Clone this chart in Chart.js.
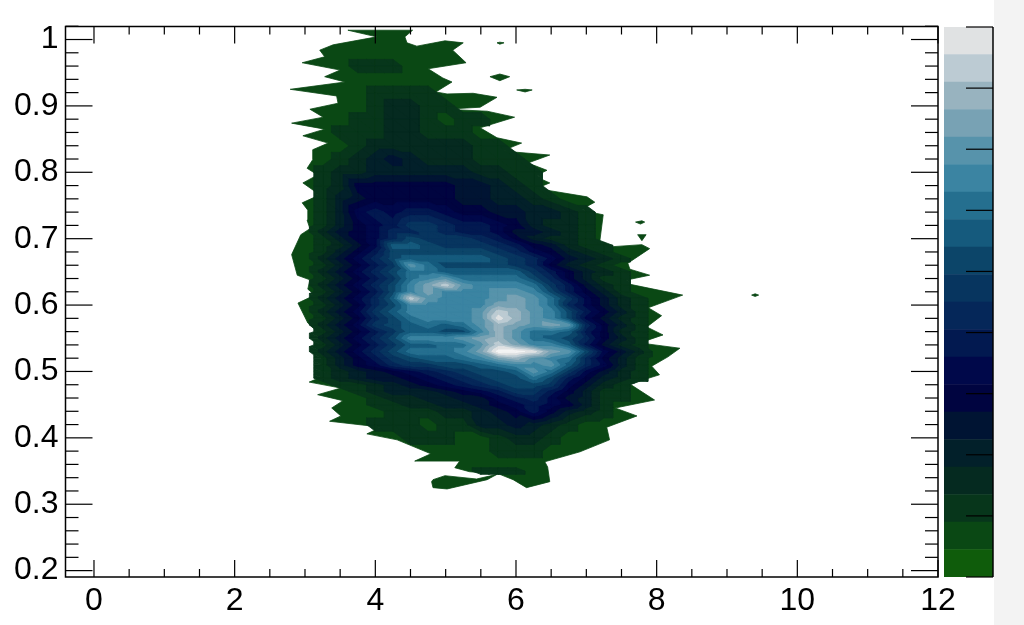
<!DOCTYPE html>
<html>
<head>
<meta charset="UTF-8">
<title>Contour</title>
<script src="https://cdn.jsdelivr.net/npm/chart.js"></script>
<style>
    html, body { margin: 0; padding: 0; background: white; overflow: hidden; }
    #strip { position: absolute; left: 994px; top: 0; width: 30px; height: 625px; background: #f3f3f3; }
    #plot { position: absolute; left: 0; top: 0; }
    #bar { position: absolute; left: 944px; top: 26px; }
</style>
</head>
<body>
<div id="strip"></div>
<canvas id="plot" width="1024" height="625"></canvas>
<canvas id="bar" width="50" height="552"></canvas>
<script>
// axis ticks
const xTicks = [0, 2, 4, 6, 8, 10, 12];
const yTicks = [0.2, 0.3, 0.4, 0.5, 0.6, 0.7, 0.8, 0.9, 1];
const barTicks = [0, 10, 20, 30, 40, 50, 60, 70, 80, 90];
const barBand = 4.5;

// palette, bottom of the colour bar to the top
const bandColors = ['#0f5c0b', '#0a4814', '#07361b', '#052a20', '#02202a', '#001433', '#000440', '#00084a', '#021950', '#052759',
    '#07355f', '#0c4569', '#155a7d', '#256f8f', '#3b84a2', '#5793ab', '#78a2b4', '#98b3bf', '#bccbd3', '#e0e2e3', '#f4f4f4'];

// outer contour
const outlineX = [3.61, 4.53, 4.42, 4.45, 4.59, 4.99, 5.25, 5.10, 5.29, 4.75, 4.96, 5.09, 4.86, 5.02, 5.39, 5.73, 5.49, 4.99, 5.59, 5.98,
    5.49, 5.73, 6.08, 5.80, 6.48, 6.17, 6.44, 6.27, 6.48, 6.34, 6.44, 7.01, 7.12, 6.91, 7.24, 7.19, 7.38, 7.79, 7.90, 7.59,
    7.62, 7.90, 7.45, 8.37, 7.88, 8.07, 7.86, 8.09, 7.76, 8.33, 8.16, 7.93, 8.04, 7.62, 7.97, 7.41, 7.72, 7.29, 7.33, 6.91,
    6.41, 6.45, 6.48, 6.15, 5.96, 5.77, 5.34, 5.13, 5.20, 4.56, 4.79, 4.31, 3.88, 4.09, 3.35, 3.51, 3.38, 3.54, 3.18, 3.51,
    3.06, 3.33, 3.17, 3.27, 3.18, 3.23, 3.04, 2.97, 2.90, 3.14, 3.04, 3.07, 2.89, 2.81, 2.94, 3.07, 3.03, 3.04, 2.96, 3.21,
    2.97, 3.18, 3.03, 3.11, 3.11, 3.33, 2.97, 3.28, 2.81, 3.26, 3.07, 3.47, 3.45, 2.79, 3.57, 3.28, 3.50, 2.96, 3.28, 3.21, 3.40, 4.02, 3.61];
const outlineY = [1.014, 1.014, 1.004, 0.995, 0.990, 0.998, 0.995, 0.984, 0.965, 0.956, 0.942, 0.936, 0.921, 0.918, 0.919, 0.913, 0.898, 0.895, 0.892, 0.883,
    0.867, 0.852, 0.844, 0.832, 0.826, 0.814, 0.803, 0.794, 0.784, 0.778, 0.773, 0.763, 0.755, 0.743, 0.736, 0.695, 0.688, 0.691, 0.685, 0.663,
    0.654, 0.645, 0.635, 0.615, 0.596, 0.584, 0.567, 0.555, 0.543, 0.535, 0.522, 0.508, 0.495, 0.481, 0.457, 0.445, 0.433, 0.416, 0.397, 0.379,
    0.364, 0.356, 0.334, 0.325, 0.337, 0.345, 0.349, 0.355, 0.365, 0.365, 0.376, 0.397, 0.406, 0.416, 0.425, 0.433, 0.445, 0.456, 0.465, 0.475,
    0.484, 0.496, 0.505, 0.514, 0.528, 0.555, 0.573, 0.588, 0.603, 0.615, 0.624, 0.638, 0.645, 0.676, 0.706, 0.715, 0.728, 0.743, 0.754, 0.766,
    0.784, 0.796, 0.806, 0.819, 0.834, 0.844, 0.855, 0.865, 0.874, 0.883, 0.895, 0.904, 0.915, 0.925, 0.936, 0.944, 0.954, 0.965, 0.974, 0.984, 0.992, 1.004, 1.014];

// detached bits of the outer contour
const islandsX = [
    [4.80, 4.82, 4.99, 5.44, 5.73, 5.59, 5.02, 4.82],
    [5.63, 5.77, 5.91, 5.77],
    [6.01, 6.13, 6.23, 6.13],
    [5.73, 5.77, 5.83, 5.77],
    [7.70, 7.79, 7.83, 7.77],
    [7.73, 7.85, 7.79],
    [9.35, 9.40, 9.45, 9.40]
];
const islandsY = [
    [0.334, 0.337, 0.343, 0.338, 0.345, 0.337, 0.323, 0.325],
    [0.944, 0.948, 0.944, 0.938],
    [0.924, 0.925, 0.924, 0.921],
    [0.995, 0.996, 0.995, 0.993],
    [0.725, 0.727, 0.725, 0.722],
    [0.706, 0.706, 0.697],
    [0.615, 0.617, 0.615, 0.613]
];

// inner values on a grid, in colour bands
const colX = [3, 3.25, 3.5, 3.75, 4, 4.25, 4.5, 4.75, 5, 5.25, 5.5, 5.75, 6, 6.25, 6.5, 6.75, 7, 7.25, 7.5, 7.75, 8];
const rowY = [0.98, 0.96, 0.94, 0.92, 0.90, 0.88, 0.86, 0.84, 0.82, 0.80, 0.78, 0.76, 0.74, 0.72, 0.71, 0.70, 0.69, 0.68, 0.67, 0.66, 0.65,
    0.64, 0.63, 0.62, 0.61, 0.60, 0.59, 0.58, 0.57, 0.56, 0.55, 0.54, 0.53, 0.52, 0.51, 0.50, 0.49, 0.48, 0.47, 0.46, 0.45, 0.44, 0.42, 0.40, 0.38, 0.36, 0.35, 0.34];
const zRows = [
    [1,1,1,1,1,1,1,1,1,1,1,1,1,1,1,1,1,1,1,1,1],
    [1,1,1,2,2,2,1,1,1,1,1,1,1,1,1,1,1,1,1,1,1],
    [1,1,1,1,1,1,1,1,1,1,1,1,1,1,1,1,1,1,1,1,1],
    [1,1,1,1,2,2,2,2,1,1,1,1,1,1,1,1,1,1,1,1,1],
    [1,1,1,1,2,3,3,2,2,1,1,1,1,1,1,1,1,1,1,1,1],
    [1,1,1,2,2,3,3,2,1,2,2,1,1,1,1,1,1,1,1,1,1],
    [1,1,2,2,2,3,3,2,2,2,1,1,1,1,1,1,1,1,1,1,1],
    [1,1,1,2,3,3,3,3,3,3,2,2,1,1,1,1,1,1,1,1,1],
    [1,1,2,3,4,5,4,3,3,3,2,2,2,1,1,1,1,1,1,1,1],
    [1,2,3,3,4,4,4,4,4,4,3,3,2,2,1,1,1,1,1,1,1],
    [1,2,3,6,6,6,6,6,6,5,5,4,3,2,1,1,1,1,1,1,1],
    [1,2,4,5,6,6,6,6,6,5,5,4,4,3,2,1,1,1,1,1,1],
    [1,2,4,7,8,7,8,8,7,6,6,5,5,4,4,3,2,1,1,1,1],
    [1,2,4,6,7,8,10,10,9,8,8,7,6,4,3,3,2,1,1,1,1],
    [1,3,5,6,7,9,9,10,9,8,8,7,5,5,4,3,2,1,1,1,1],
    [1,2,4,6,7,9,11,10,10,10,9,8,6,4,3,3,2,1,1,1,1],
    [1,2,3,5,7,12,12,11,10,10,10,9,8,6,5,3,2,2,1,1,1],
    [1,2,4,6,8,11,11,11,11,11,11,10,9,7,6,4,3,2,1,1,1],
    [1,3,5,7,9,11,12,12,12,12,12,11,10,9,7,5,4,3,2,1,1],
    [1,2,4,6,8,10,15,13,11,11,11,11,10,9,6,4,3,2,1,1,1],
    [1,3,5,7,9,11,13,13,12,12,12,12,12,10,8,6,4,3,2,1,1],
    [1,2,4,6,8,10,13,14,15,13,13,13,13,11,9,6,4,2,2,1,1],
    [1,3,5,7,9,11,14,16,18,15,14,14,14,13,10,8,5,3,2,1,1],
    [1,2,4,6,8,11,14,16,14,14,14,15,15,14,11,8,6,4,2,1,1],
    [1,3,5,7,9,12,18,15,14,14,14,15,16,15,13,10,7,5,3,2,1],
    [1,2,4,6,9,11,14,14,14,14,14,16,16,15,13,9,7,5,3,2,1],
    [1,3,5,7,10,12,14,14,14,14,15,18,17,15,14,11,8,6,4,2,1],
    [1,2,4,6,9,11,13,14,14,14,15,19,17,15,14,11,7,5,3,2,1],
    [1,3,5,7,10,11,12,13,12,13,15,17,16,15,16,15,9,6,4,2,1],
    [1,2,4,6,8,10,12,12,11,11,14,17,15,13,13,12,8,6,3,2,1],
    [1,3,5,7,9,11,14,14,14,15,16,17,15,13,12,11,9,6,4,2,1],
    [1,2,4,6,8,10,12,12,13,13,15,18,16,14,14,12,8,5,3,2,1],
    [1,3,5,7,9,11,13,13,13,14,16,20,20,19,16,15,11,7,5,3,1],
    [1,2,4,6,8,10,11,12,12,13,14,16,17,15,14,13,9,6,4,2,1],
    [1,2,4,6,7,9,10,10,11,11,12,13,14,14,15,12,9,7,4,2,1],
    [1,2,3,4,5,6,7,8,9,10,11,11,12,15,13,10,7,5,3,2,1],
    [1,2,3,4,5,5,6,7,8,9,10,11,11,13,11,8,6,4,3,2,1],
    [1,1,2,2,3,4,5,6,7,8,9,10,11,11,10,7,5,3,2,1,1],
    [1,1,1,2,3,4,4,4,5,6,7,8,10,10,8,6,4,2,2,1,1],
    [1,1,1,1,2,3,3,4,4,5,5,7,8,9,7,5,4,2,2,1,1],
    [1,1,1,1,2,2,3,3,4,4,5,6,7,8,7,6,4,2,1,1,1],
    [1,1,1,1,1,2,2,2,3,3,4,5,6,8,6,4,3,2,1,1,1],
    [1,1,1,1,2,2,2,1,2,2,4,4,5,4,3,2,1,1,1,1,1],
    [1,1,1,1,1,1,2,2,2,1,1,2,3,3,2,1,1,1,1,1,1],
    [1,1,1,1,1,1,1,1,1,1,1,2,2,2,1,1,1,1,1,1,1],
    [1,1,1,1,1,1,1,1,1,1,1,1,1,1,1,1,1,1,1,1,1],
    [1,1,1,1,1,1,1,1,1,1,2,2,2,1,1,1,1,1,1,1,1],
    [1,1,1,1,1,1,1,1,1,1,1,1,1,1,1,1,1,1,1,1,1]
];

// part of a grid triangle that sits at or above the level
function clipTriangle(tri, level) {
    const out = [];
    for (let i = 0; i < 3; i++) {
        const a = tri[i], b = tri[(i + 1) % 3];
        if (a.z >= level) out.push({ x: a.x, y: a.y });
        if ((a.z >= level) !== (b.z >= level)) {
            const t = (level - a.z) / (b.z - a.z);
            out.push({ x: a.x + t * (b.x - a.x), y: a.y + t * (b.y - a.y) });
        }
    }
    return out;
}

function pushLoop(pts, loop) {
    loop.forEach(p => pts.push(p));
    pts.push({ x: loop[0].x, y: loop[0].y });
    pts.push({ x: null, y: null });
}

function levelPoints(band) {
    const pts = [], level = band - 0.5;
    for (let r = 0; r < rowY.length - 1; r++) {
        for (let c = 0; c < colX.length - 1; c++) {
            const p00 = { x: colX[c], y: rowY[r], z: zRows[r][c] };
            const p10 = { x: colX[c + 1], y: rowY[r], z: zRows[r][c + 1] };
            const p01 = { x: colX[c], y: rowY[r + 1], z: zRows[r + 1][c] };
            const p11 = { x: colX[c + 1], y: rowY[r + 1], z: zRows[r + 1][c + 1] };
            [[p00, p10, p11], [p00, p11, p01]].forEach(tri => {
                const loop = clipTriangle(tri, level);
                if (loop.length > 2) pushLoop(pts, loop);
            });
        }
    }
    return pts;
}

function bandDataset(band, pts) {
    return {
        data: pts,
        showLine: true,
        fill: 'shape',
        backgroundColor: bandColors[band],
        borderColor: bandColors[band],
        borderWidth: 0.8,
        pointRadius: 0,
        tension: 0,
        order: 100 - band
    };
}

const datasets = [];
const outerPts = [];
pushLoop(outerPts, outlineX.map((x, i) => ({ x: x, y: outlineY[i] })));
islandsX.forEach((xs, k) => pushLoop(outerPts, xs.map((x, i) => ({ x: x, y: islandsY[k][i] }))));
datasets.push(bandDataset(1, outerPts));
for (let band = 2; band <= 20; band++) {
    datasets.push(bandDataset(band, levelPoints(band)));
}

// root style ticks, drawn inward on all four sides
const frameTicks = {
    id: 'frameTicks',
    afterDatasetsDraw(chart) {
        const { ctx, chartArea: a, scales: { x, y } } = chart;
        ctx.save();
        ctx.strokeStyle = 'black';
        ctx.lineWidth = 1.2;
        const line = (x1, y1, x2, y2) => { ctx.beginPath(); ctx.moveTo(x1, y1); ctx.lineTo(x2, y2); ctx.stroke(); };
        for (let v = 0; v <= 12; v += 0.5) {
            const len = v % 2 === 0 ? 17 : 8, px = x.getPixelForValue(v);
            line(px, a.bottom, px, a.bottom - len);
            line(px, a.top, px, a.top + len);
        }
        for (let k = 10; k <= 51; k++) {
            const len = k % 5 === 0 ? 27 : 13, py = y.getPixelForValue(k / 50);
            line(a.left, py, a.left + len, py);
            line(a.right, py, a.right - len, py);
        }
        ctx.lineWidth = 1.5;
        ctx.strokeRect(a.left, a.top, a.right - a.left, a.bottom - a.top);
        ctx.restore();
    }
};

const tickFont = { family: '"Liberation Sans", Arial, sans-serif', size: 32 };

new Chart(document.getElementById('plot'), {
    type: 'scatter',
    data: { datasets: datasets },
    plugins: [frameTicks],
    options: {
        responsive: false,
        animation: false,
        events: [],
        layout: { padding: { top: 26.5, right: 86, left: 0, bottom: 0 } },
        plugins: { legend: { display: false }, tooltip: { enabled: false } },
        scales: {
            x: {
                type: 'linear', min: -0.405, max: 12,
                grid: { display: false, tickLength: 0 }, border: { display: false },
                afterBuildTicks: s => { s.ticks = xTicks.map(v => ({ value: v })); },
                afterFit: s => { s.height = 48; },
                ticks: { color: 'black', font: tickFont, padding: 5, maxRotation: 0, autoSkip: false }
            },
            y: {
                type: 'linear', min: 0.1904, max: 1.0196,
                grid: { display: false, tickLength: 0 }, border: { display: false },
                afterBuildTicks: s => { s.ticks = yTicks.map(v => ({ value: v })); },
                afterFit: s => { s.width = 65.5; },
                ticks: { color: 'black', font: tickFont, padding: 7, autoSkip: false, callback: v => String(v) }
            }
        }
    }
});

const barEdge = {
    id: 'barEdge',
    afterDatasetsDraw(chart) {
        const { ctx, chartArea: a, scales: { y } } = chart;
        ctx.save();
        ctx.strokeStyle = 'black';
        ctx.lineWidth = 1.2;
        barTicks.forEach(v => {
            const py = y.getPixelForValue(v);
            ctx.beginPath(); ctx.moveTo(a.right - 27, py); ctx.lineTo(a.right, py); ctx.stroke();
        });
        ctx.lineWidth = 1.5;
        ctx.beginPath(); ctx.moveTo(a.right, a.top); ctx.lineTo(a.right, a.bottom); ctx.stroke();
        ctx.restore();
    }
};

new Chart(document.getElementById('bar'), {
    type: 'bar',
    data: {
        labels: [''],
        datasets: bandColors.slice(0, 20).map(c => ({ data: [barBand], backgroundColor: c, barPercentage: 1, categoryPercentage: 1 }))
    },
    plugins: [barEdge],
    options: {
        responsive: false,
        animation: false,
        events: [],
        layout: { padding: { top: 1, bottom: 1, right: 1, left: 0 } },
        plugins: { legend: { display: false }, tooltip: { enabled: false } },
        scales: {
            x: { stacked: true, display: false },
            y: { stacked: true, display: false, min: 0, max: 90 }
        }
    }
});
</script>
</body>
</html>
